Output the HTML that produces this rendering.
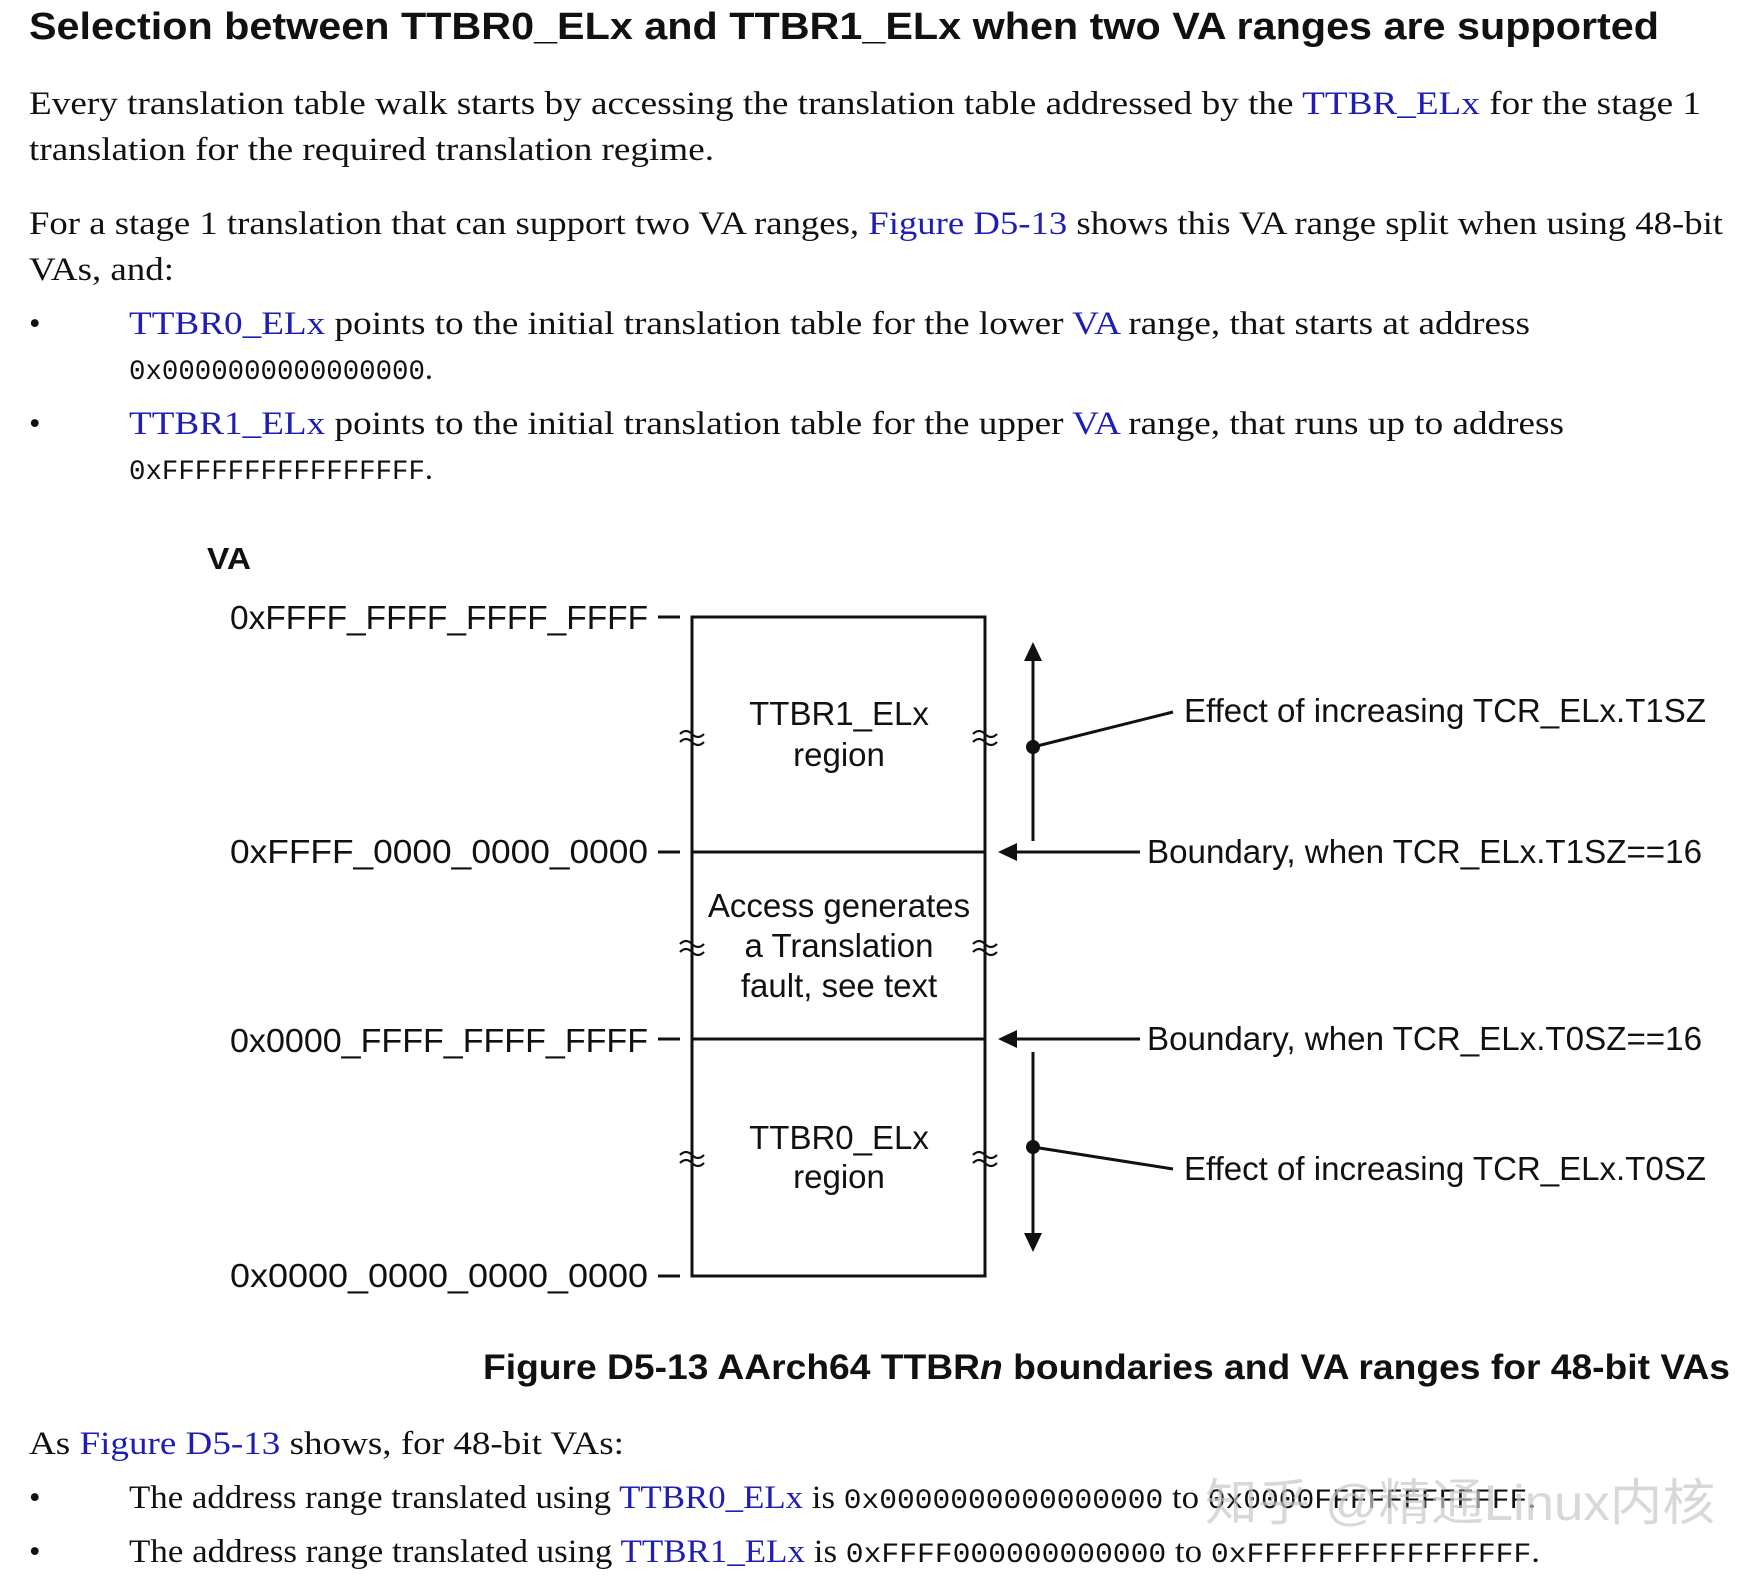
<!DOCTYPE html>
<html><head><meta charset="utf-8"><style>
html,body{margin:0;padding:0;background:#fff;}
svg{display:block;}
.s{font-family:"Liberation Serif",serif;font-size:33px;fill:#111;}
.m{font-family:"Liberation Mono",monospace;}
.l{fill:#1e1eb4;}
.d{font-family:"Liberation Sans",sans-serif;font-size:33px;fill:#111;}
.b{font-family:"Liberation Sans",sans-serif;font-weight:bold;fill:#111;}
</style></head><body>
<svg width="1758" height="1576" viewBox="0 0 1758 1576" xmlns="http://www.w3.org/2000/svg">
<rect width="1758" height="1576" fill="#fff"/>
<text class="b" x="29" y="39" font-size="38" textLength="1630" lengthAdjust="spacingAndGlyphs">Selection between TTBR0_ELx and TTBR1_ELx when two VA ranges are supported</text>

<text class="s" x="29" y="114" textLength="1672" lengthAdjust="spacingAndGlyphs">Every translation table walk starts by accessing the translation table addressed by the <tspan class="l">TTBR_ELx</tspan> for the stage 1</text>
<text class="s" x="29" y="160" textLength="685" lengthAdjust="spacingAndGlyphs">translation for the required translation regime.</text>

<text class="s" x="29" y="234" textLength="1694" lengthAdjust="spacingAndGlyphs">For a stage 1 translation that can support two VA ranges, <tspan class="l">Figure D5-13</tspan> shows this VA range split when using 48-bit</text>
<text class="s" x="29" y="280" textLength="145" lengthAdjust="spacingAndGlyphs">VAs, and:</text>

<text class="s" x="29" y="334">•</text>
<text class="s" x="129" y="334" textLength="1401" lengthAdjust="spacingAndGlyphs"><tspan class="l">TTBR0_ELx</tspan> points to the initial translation table for the lower <tspan class="l">VA</tspan> range, that starts at address</text>
<text class="s" x="129" y="379" textLength="304" lengthAdjust="spacingAndGlyphs"><tspan class="m" font-size="28">0x0000000000000000</tspan>.</text>
<text class="s" x="29" y="434">•</text>
<text class="s" x="129" y="434" textLength="1435" lengthAdjust="spacingAndGlyphs"><tspan class="l">TTBR1_ELx</tspan> points to the initial translation table for the upper <tspan class="l">VA</tspan> range, that runs up to address</text>
<text class="s" x="129" y="479" textLength="304" lengthAdjust="spacingAndGlyphs"><tspan class="m" font-size="28">0xFFFFFFFFFFFFFFFF</tspan>.</text>

<text class="b" x="207" y="569" font-size="31" textLength="44" lengthAdjust="spacingAndGlyphs">VA</text>

<g class="d">
<text x="230" y="629" textLength="418" lengthAdjust="spacingAndGlyphs">0xFFFF_FFFF_FFFF_FFFF</text>
<text x="230" y="863" textLength="418" lengthAdjust="spacingAndGlyphs">0xFFFF_0000_0000_0000</text>
<text x="230" y="1052" textLength="418" lengthAdjust="spacingAndGlyphs">0x0000_FFFF_FFFF_FFFF</text>
<text x="230" y="1287" textLength="418" lengthAdjust="spacingAndGlyphs">0x0000_0000_0000_0000</text>
</g>
<g stroke="#111" stroke-width="3" fill="none">
<line x1="658" y1="617" x2="680" y2="617"/>
<line x1="658" y1="852" x2="680" y2="852"/>
<line x1="658" y1="1039" x2="680" y2="1039"/>
<line x1="658" y1="1276" x2="680" y2="1276"/>
<rect x="692" y="617" width="293" height="659"/>
<line x1="692" y1="852" x2="985" y2="852"/>
<line x1="692" y1="1039" x2="985" y2="1039"/>
</g>
<g stroke="#111" stroke-width="2.2" fill="none">
<path d="M680 734 q6 -6 12 0 t12 0 M680 742 q6 -6 12 0 t12 0"/>
<path d="M973 734 q6 -6 12 0 t12 0 M973 742 q6 -6 12 0 t12 0"/>
<path d="M680 944 q6 -6 12 0 t12 0 M680 952 q6 -6 12 0 t12 0"/>
<path d="M973 944 q6 -6 12 0 t12 0 M973 952 q6 -6 12 0 t12 0"/>
<path d="M680 1155 q6 -6 12 0 t12 0 M680 1163 q6 -6 12 0 t12 0"/>
<path d="M973 1155 q6 -6 12 0 t12 0 M973 1163 q6 -6 12 0 t12 0"/>
</g>
<g class="d" text-anchor="middle">
<text x="839" y="725">TTBR1_ELx</text>
<text x="839" y="766">region</text>
<text x="839" y="917">Access generates</text>
<text x="839" y="957">a Translation</text>
<text x="839" y="997">fault, see text</text>
<text x="839" y="1149">TTBR0_ELx</text>
<text x="839" y="1188">region</text>
</g>

<g stroke="#111" stroke-width="3" fill="none">
<line x1="1033" y1="841" x2="1033" y2="655"/>
<line x1="1033" y1="747" x2="1173" y2="712"/>
<line x1="1010" y1="852" x2="1140" y2="852"/>
<line x1="1010" y1="1039" x2="1140" y2="1039"/>
<line x1="1033" y1="1052" x2="1033" y2="1238"/>
<line x1="1033" y1="1147" x2="1173" y2="1169"/>
</g>
<g fill="#111">
<polygon points="1033,642 1024,661 1042,661"/>
<polygon points="1033,1252 1024,1233 1042,1233"/>
<polygon points="998,852 1017,843 1017,861"/>
<polygon points="998,1039 1017,1030 1017,1048"/>
<circle cx="1033" cy="747" r="7"/>
<circle cx="1033" cy="1147" r="7"/>
</g>
<g class="d">
<text x="1184" y="722" textLength="522" lengthAdjust="spacingAndGlyphs">Effect of increasing TCR_ELx.T1SZ</text>
<text x="1147" y="863" textLength="555" lengthAdjust="spacingAndGlyphs">Boundary, when TCR_ELx.T1SZ==16</text>
<text x="1147" y="1050" textLength="555" lengthAdjust="spacingAndGlyphs">Boundary, when TCR_ELx.T0SZ==16</text>
<text x="1184" y="1180" textLength="522" lengthAdjust="spacingAndGlyphs">Effect of increasing TCR_ELx.T0SZ</text>
</g>

<text class="b" x="483" y="1379" font-size="35" textLength="1247" lengthAdjust="spacingAndGlyphs">Figure D5-13 AArch64 TTBR<tspan font-style="italic">n</tspan> boundaries and VA ranges for 48-bit VAs</text>

<text class="s" x="29" y="1454" textLength="595" lengthAdjust="spacingAndGlyphs">As <tspan class="l">Figure D5-13</tspan> shows, for 48-bit VAs:</text>
<text class="s" x="29" y="1508">•</text>
<text class="s" x="129" y="1508" textLength="1407" lengthAdjust="spacingAndGlyphs">The address range translated using <tspan class="l">TTBR0_ELx</tspan> is <tspan class="m" font-size="28">0x0000000000000000</tspan> to <tspan class="m" font-size="28">0x0000FFFFFFFFFFFF</tspan>.</text>
<text class="s" x="29" y="1562">•</text>
<text class="s" x="129" y="1562" textLength="1411" lengthAdjust="spacingAndGlyphs">The address range translated using <tspan class="l">TTBR1_ELx</tspan> is <tspan class="m" font-size="28">0xFFFF000000000000</tspan> to <tspan class="m" font-size="28">0xFFFFFFFFFFFFFFFF</tspan>.</text>

<text x="1205" y="1520" font-family="Liberation Sans, Noto Sans CJK SC, sans-serif" font-size="50" fill="#c8c8c8" fill-opacity="0.7" textLength="510" lengthAdjust="spacingAndGlyphs">知乎 @精通Linux内核</text>
</svg>
</body></html>
